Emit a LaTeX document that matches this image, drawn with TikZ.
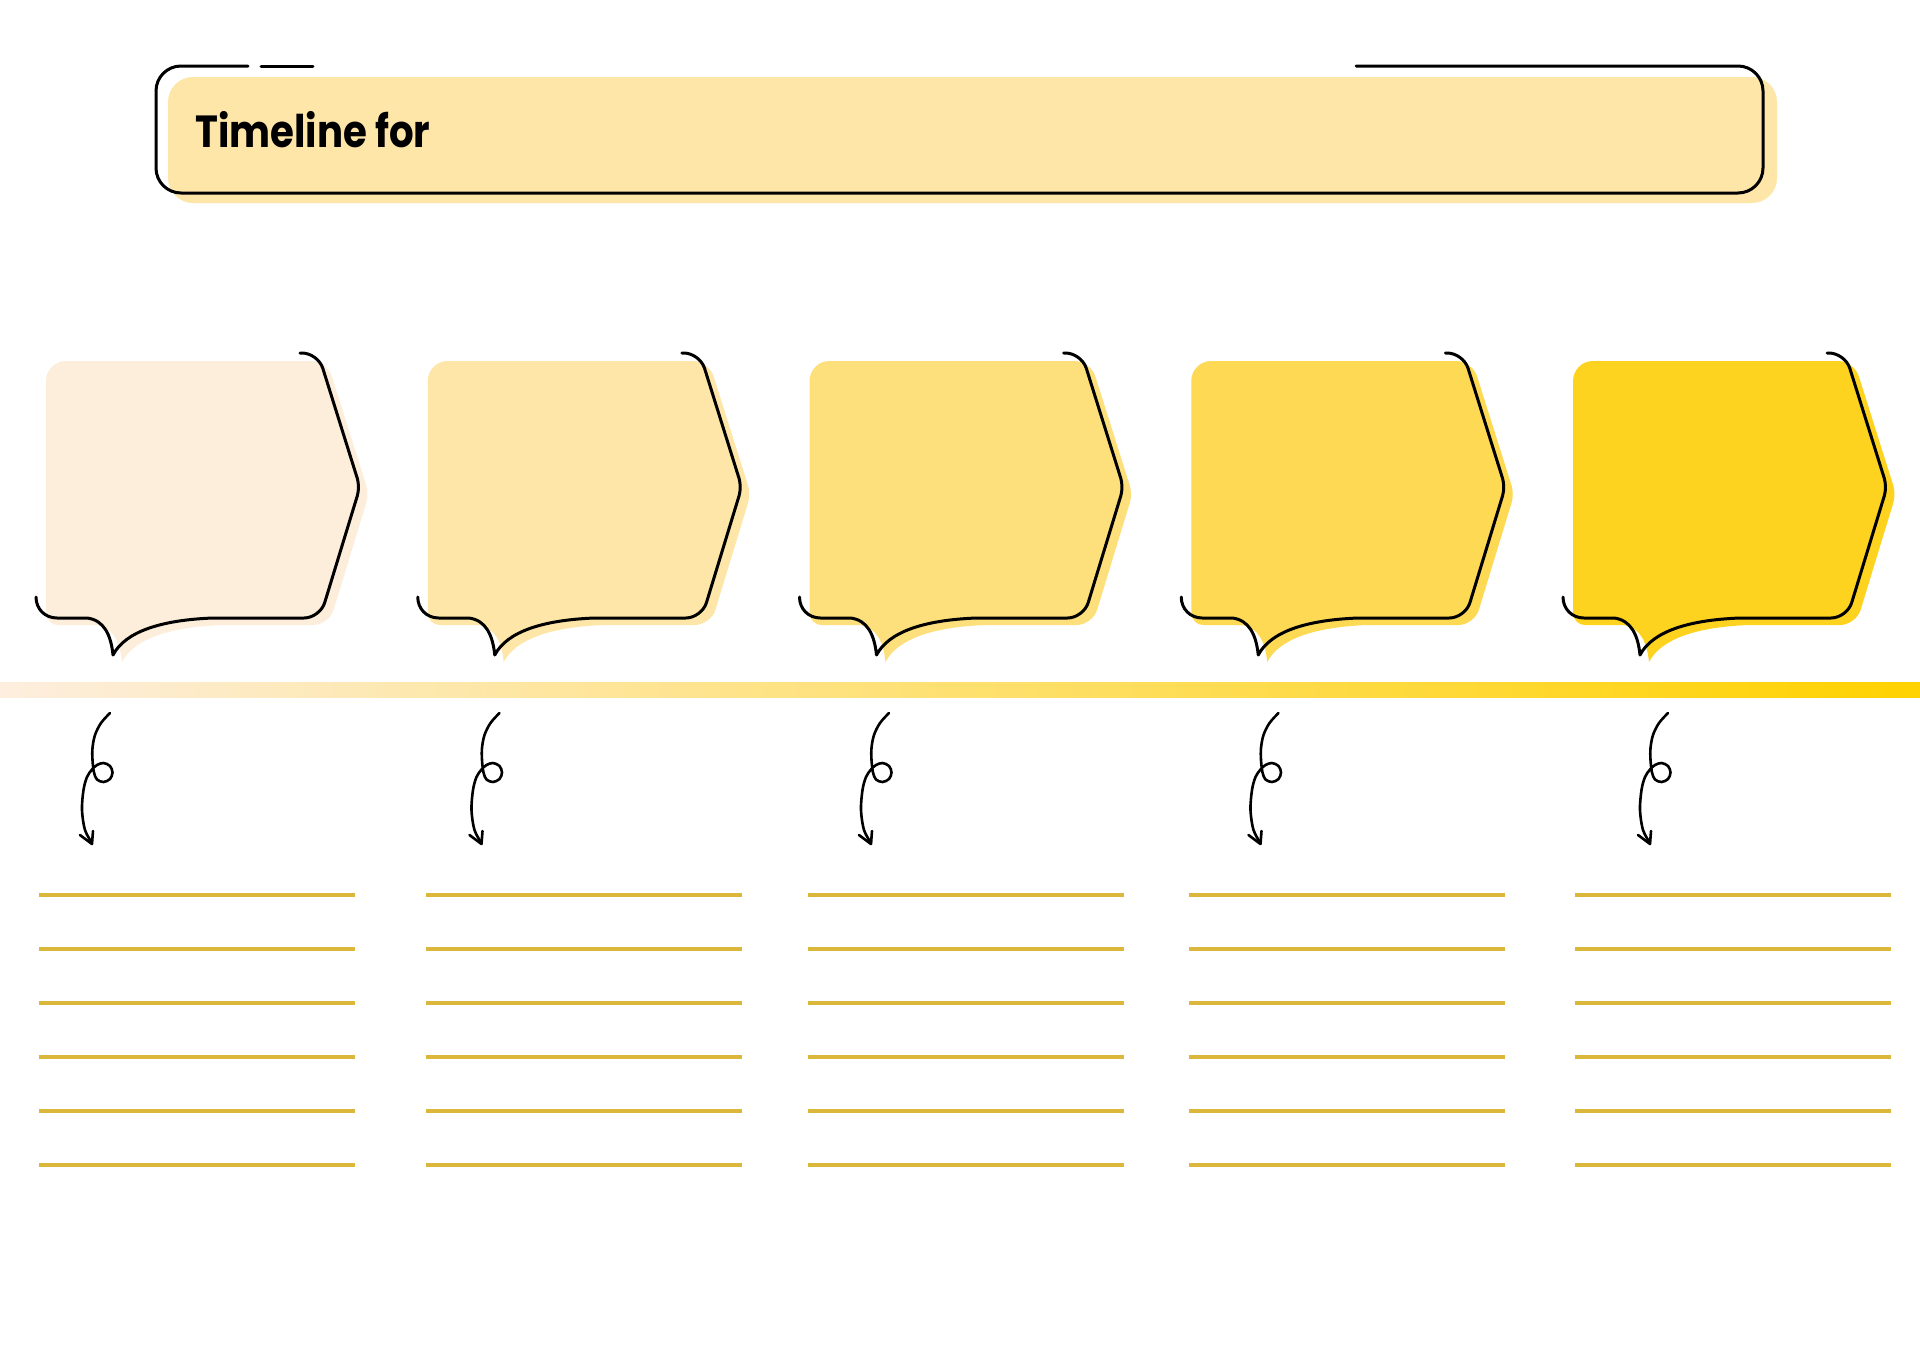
\documentclass[tikz,border=0pt]{standalone}
\usepackage{fontspec}
\setmainfont{Poppins}
\definecolor{hdrfill}{HTML}{FDE6A7}
\definecolor{boxA}{HTML}{FDEEDB}
\definecolor{boxB}{HTML}{FDE6A8}
\definecolor{boxC}{HTML}{FDDF7B}
\definecolor{boxD}{HTML}{FED953}
\definecolor{boxE}{HTML}{FED320}
\definecolor{barL}{HTML}{FDEEDF}
\definecolor{barR}{HTML}{FFD200}
\definecolor{lineyellow}{HTML}{DBB83B}
\begin{document}
\begin{tikzpicture}[x=1pt,y=-1pt,
  outl/.style={draw=black, line width=3pt, line cap=round, line join=round},
  curl/.style={draw=black, line width=2.6pt, line cap=round, line join=round},
  wline/.style={draw=lineyellow, line width=4pt}]
\useasboundingbox (0,0) rectangle (1920,1358);
\fill[white] (0,0) rectangle (1920,1358);

% header
\fill[hdrfill, rounded corners=25pt] (168,77) rectangle (1777,203);
\draw[outl, rounded corners=25pt] (248,66) -- (156,66) -- (156,193) -- (1763,193) -- (1763,66) -- (1356,66);
\draw[outl] (261,66) -- (313,66);
\node[anchor=base west, font=\bfseries\fontsize{45}{50}\selectfont, inner sep=0pt] (title) at (195,147) {\scalebox{0.86}[1]{Timeline for}};

% boxes
\foreach \i/\c in {0/boxA,1/boxB,2/boxC,3/boxD,4/boxE}{
  \begin{scope}[xshift=\i*381.75pt]
    \fill[\c] (46,500) [rounded corners=20pt] -- (46,361) [rounded corners=16pt] -- (327,361) [rounded corners=9pt] -- (369,494) [rounded corners=16pt] -- (329,625) [sharp corners] -- (222,625)
      .. controls (169,627) and (134,639) .. (122,662)
      .. controls (120,642) and (113,627) .. (96,625) [rounded corners=12pt] -- (46,625) -- cycle;
    \draw[outl] (300,353) [rounded corners=16pt] -- (318,353) [rounded corners=9pt] -- (360,487) [rounded corners=16pt] -- (320,618) [sharp corners] -- (213,618)
      .. controls (160,620) and (125,632) .. (113,655)
      .. controls (111,635) and (104,620) .. (87,618) -- (57,618)
      .. controls (45,618) and (36,609) .. (36,597);
  \end{scope}
}

% timeline bar
\shade[left color=barL, right color=barR] (0,682) rectangle (1920,697);

% curly arrows
\foreach \i in {0,...,4}{
  \begin{scope}[xshift=\i*389.5pt]
    \draw[curl] plot[smooth, tension=0.55] coordinates {(110,713) (101,723) (95,735) (92.5,748) (92.5,760) (94,772.5) (97,779.5) (103.5,782) (110,779) (112.5,772.5) (110,766) (103.5,763) (97,765) (92,769.5) (87,777) (83.5,790) (82,810) (85,830) (92,843)};
    \draw[curl] (80,835) -- (92,844) -- (93,831);
  \end{scope}
}

% writing lines
\foreach \x in {39,426,808,1189,1575}{
  \foreach \y in {895,949,1003,1057,1111,1164.5}{
    \draw[wline] (\x,\y) -- ++(316,0);
  }
}
\end{tikzpicture}
\end{document}
